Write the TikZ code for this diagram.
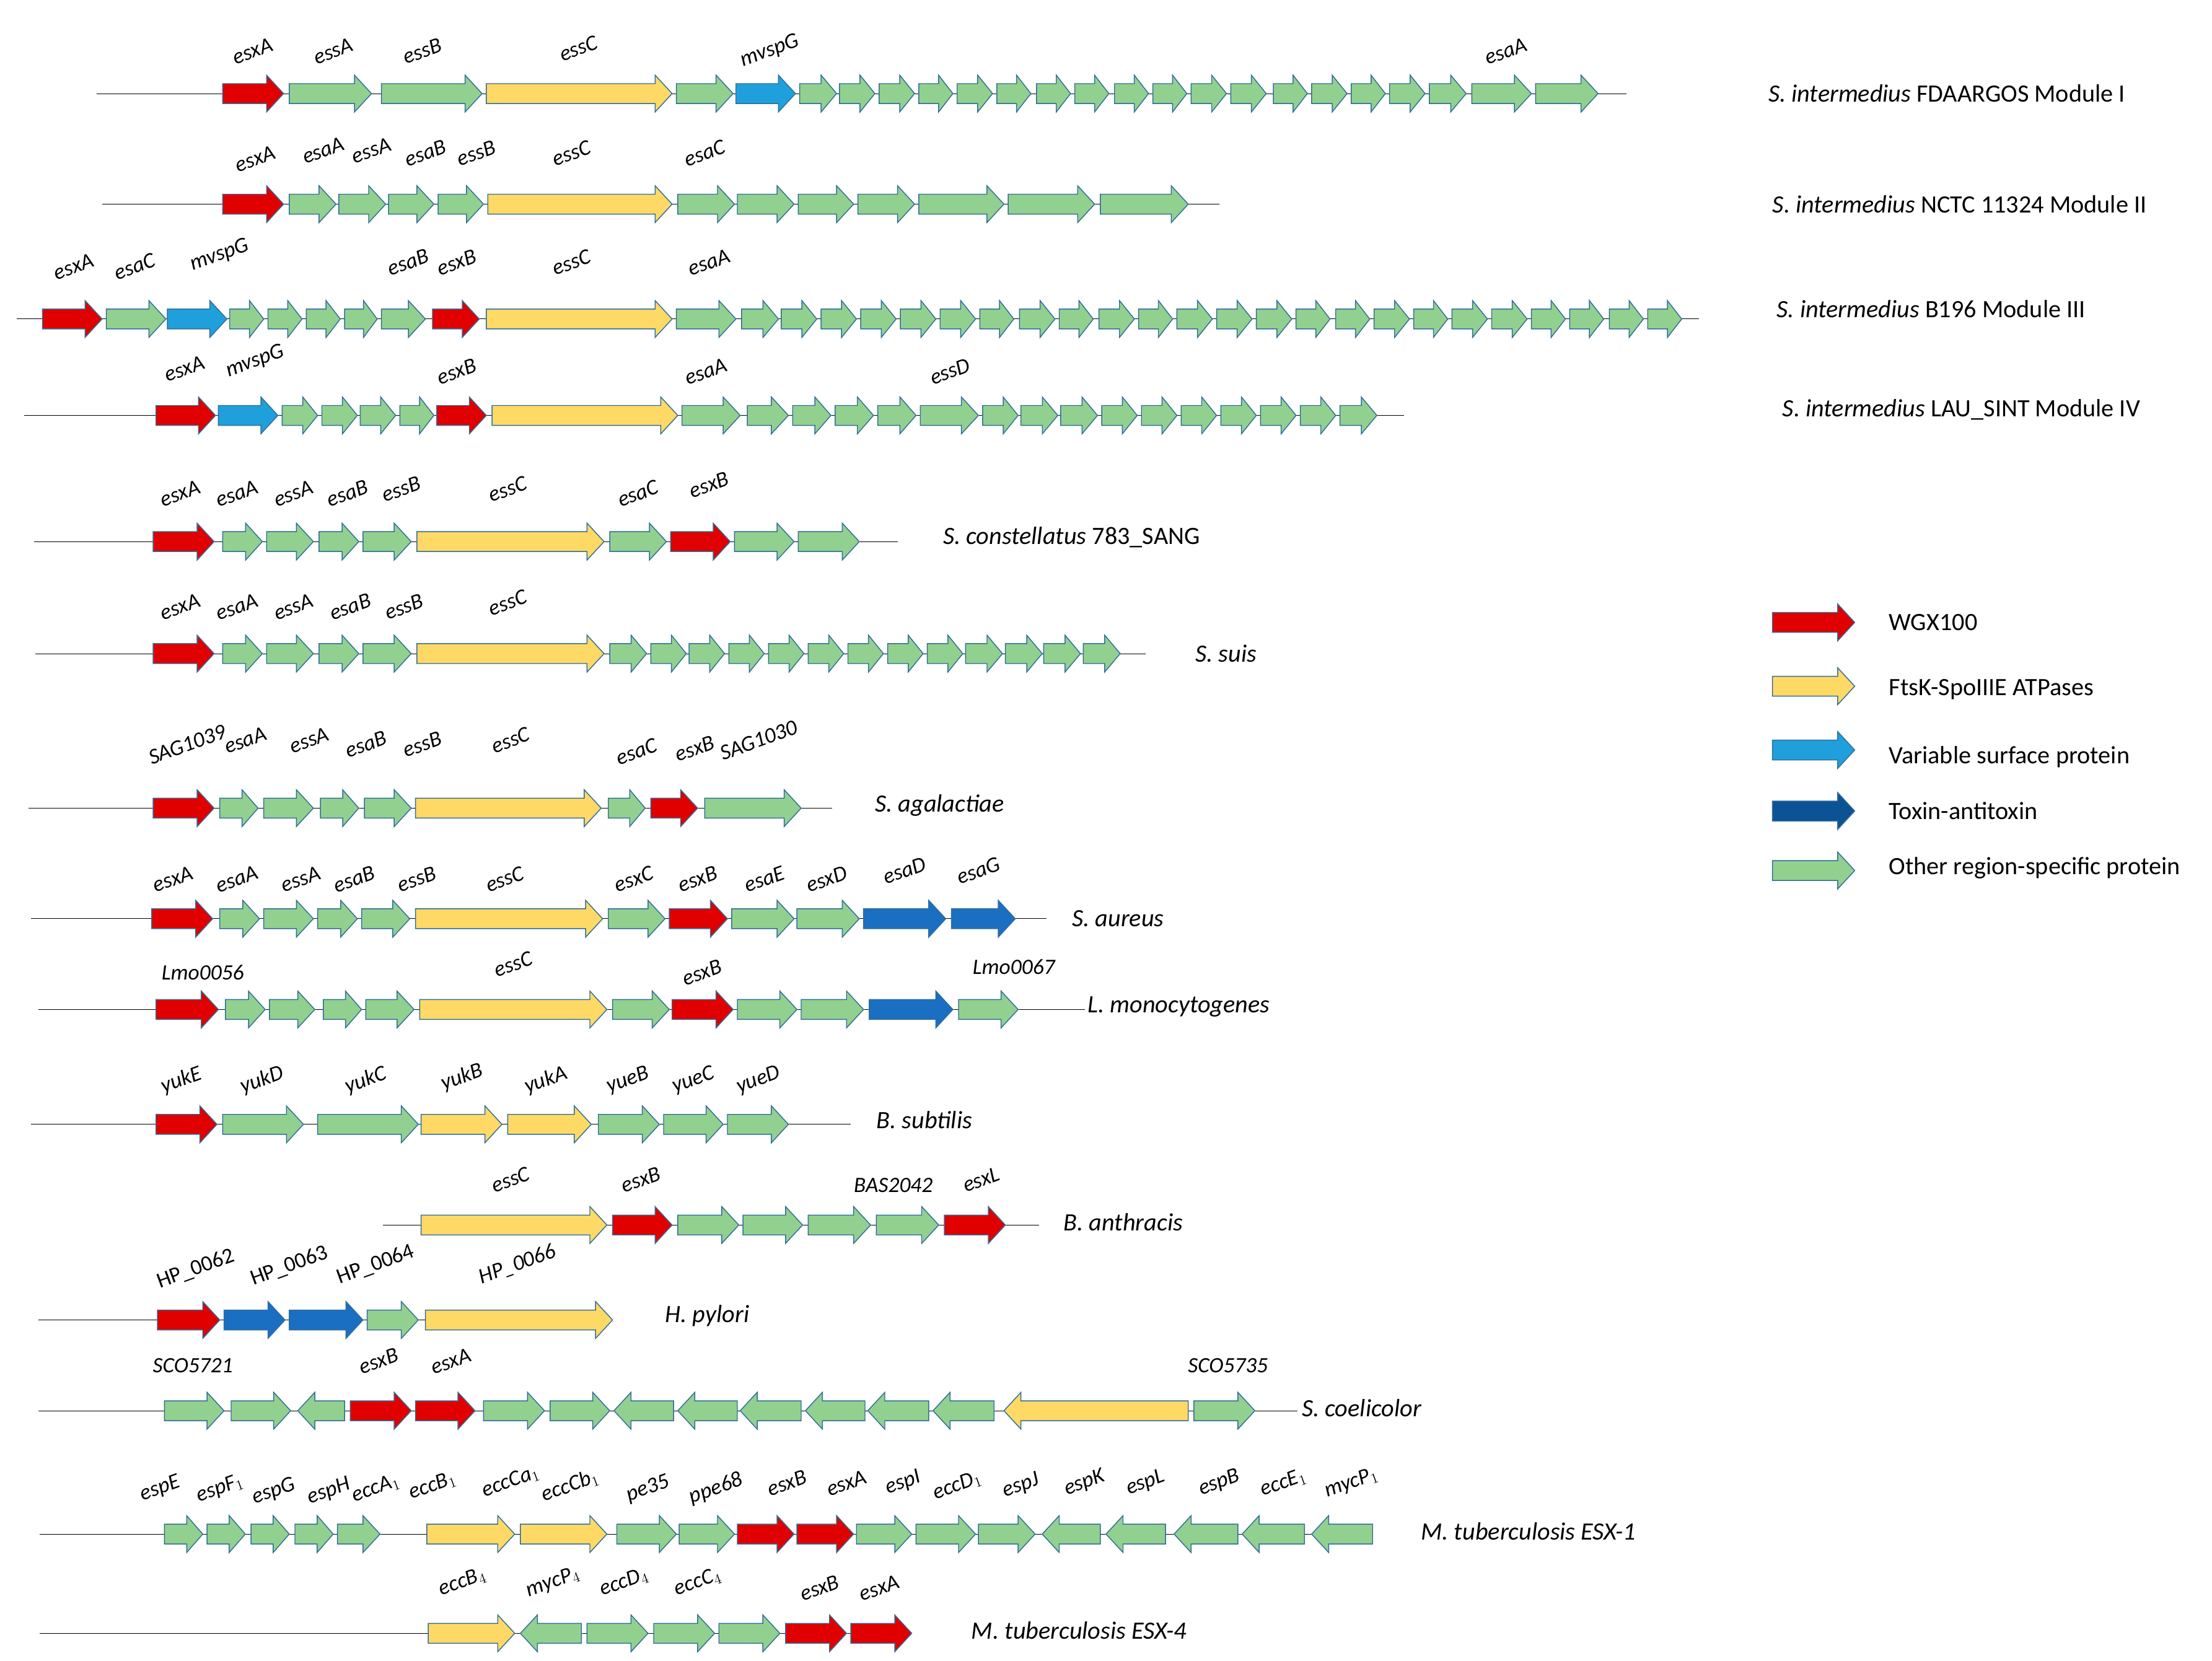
\documentclass[tikz,border=0pt]{standalone}
\usepackage{fontspec}
\setmainfont{Carlito}
\definecolor{gr}{HTML}{92D08F}
\definecolor{ye}{HTML}{FFD966}
\definecolor{rd}{HTML}{E00000}
\definecolor{lb}{HTML}{1FA0DC}
\definecolor{mb}{HTML}{1A6FC2}
\definecolor{db}{HTML}{0B5394}
\definecolor{bd}{HTML}{2F6E9A}
\tikzset{gene/.style={draw=bd,line width=0.9pt,line join=miter},
lab/.style={rotate=20,font=\fontsize{22}{26}\selectfont\itshape,inner sep=0pt},
hlab/.style={font=\fontsize{22}{26}\selectfont\itshape,inner sep=0pt},
sp/.style={anchor=west,font=\fontsize{25}{30}\selectfont,inner sep=0pt},
bb/.style={line width=0.6pt}}
\newcommand\gR[4]{\pgfmathsetmacro\hh{min(12,0.42*(#2-#1))}%
\filldraw[gene,fill=#4] (#1,#3-7)--({#2-\hh},#3-7)--({#2-\hh},#3-13)--(#2,#3)--({#2-\hh},#3+13)--({#2-\hh},#3+7)--(#1,#3+7)--cycle;}
\newcommand\gL[4]{\pgfmathsetmacro\hh{min(12,0.42*(#2-#1))}%
\filldraw[gene,fill=#4] (#2,#3-7)--({#1+\hh},#3-7)--({#1+\hh},#3-13)--(#1,#3)--({#1+\hh},#3+13)--({#1+\hh},#3+7)--(#2,#3+7)--cycle;}
\newcommand\gs[3]{\foreach \a/\b in {#3}{\gR{\a}{\b}{#1}{#2}}}
\newcommand\gls[3]{\foreach \a/\b in {#3}{\gL{\a}{\b}{#1}{#2}}}
\newcommand\lbl[3]{\node[lab] at (#1,#2) {#3};}
\newcommand\bline[3]{\draw[bb] (#1,#3)--(#2,#3);}
\begin{document}
\begin{tikzpicture}[x=0.05cm,y=-0.05cm]
\useasboundingbox[fill=white] (0,0) rectangle (1560,1171.5);
% Row 1
\bline{68}{1147}{66}
\gR{157}{200}{66}{rd}\gs{66}{gr}{204/262,269/340}\gR{343}{474}{66}{ye}\gR{477}{517}{66}{gr}\gR{519}{561}{66}{lb}
\gs{66}{gr}{564/590,592/617,620/645,648/672,675/700,703/727,731/755,758/782,786/810,813/837,840/865,868/893,898/922,925/950,953/977,980/1005,1008/1034,1038/1080,1083/1127}
\lbl{178}{36}{esxA}\lbl{235}{36}{essA}\lbl{298}{36}{essB}\lbl{408}{34}{essC}\lbl{543}{36}{mvspG}\lbl{1062}{36}{esaA}
\node[sp] at (1247,66) {\textit{S. intermedius} FDAARGOS Module I};
% Row 2
\bline{72}{860}{144}
\gR{157}{200}{144}{rd}\gs{144}{gr}{204/237,239/272,274/306,309/341}\gR{344}{474}{144}{ye}
\gs{144}{gr}{478/518,520/560,563/602,605/645,648/708,711/772,776/838}
\lbl{180}{112}{esxA}\lbl{228}{106}{esaA}\lbl{262}{106}{essA}\lbl{300}{108}{esaB}\lbl{336}{108}{essB}\lbl{403}{108}{essC}\lbl{497}{108}{esaC}
\node[sp] at (1250,144) {\textit{S. intermedius} NCTC 11324 Module II};
% Row 3
\bline{12}{1198}{225}
\gR{30}{72}{225}{rd}\gR{75}{117}{225}{gr}\gR{118}{160}{225}{lb}\gs{225}{gr}{162/186,189/213,216/240,243/266,269/300}
\gR{305}{338}{225}{rd}\gR{343}{474}{225}{ye}
\gs{225}{gr}{477/519,523/549,551/576,579/604,607/632,635/660,663/688,691/715,719/744,747/771,775/800,803/827,830/855,858/883,886/911,914/938,942/966,969/994,997/1021,1024/1049,1052/1077,1080/1104,1107/1131,1135/1159,1162/1186}
\lbl{52}{188}{esxA}\lbl{95}{188}{esaC}\lbl{155}{180}{mvspG}\lbl{288}{185}{esaB}\lbl{322}{185}{esxB}\lbl{403}{185}{essC}\lbl{500}{185}{esaA}
\node[sp] at (1253,218) {\textit{S. intermedius} B196 Module III};
% Row 4
\bline{17}{990}{293}
\gR{110}{152}{293}{rd}\gR{154}{196}{293}{lb}\gs{293}{gr}{199/224,227/252,254/279,282/306}\gR{308}{343}{293}{rd}\gR{347}{478}{293}{ye}
\gs{293}{gr}{481/522,527/556,559/586,589/616,619/646,649/690,693/718,720/746,748/774,777/802,805/830,833/858,861/886,889/914,917/942,945/971}
\lbl{130}{260}{esxA}\lbl{180}{255}{mvspG}\lbl{322}{262}{esxB}\lbl{498}{262}{esaA}\lbl{670}{262}{essD}
\node[sp] at (1257,289) {\textit{S. intermedius} LAU\_SINT Module IV};
% Row 5
\bline{24}{633}{382}
\gR{108}{151}{382}{rd}\gs{382}{gr}{157/185,188/221,225/253,256/290}\gR{294}{426}{382}{ye}\gR{430}{470}{382}{gr}\gR{473}{515}{382}{rd}\gs{382}{gr}{518/560,563/606}
\lbl{127}{348}{esxA}\lbl{167}{348}{esaA}\lbl{207}{348}{essA}\lbl{245}{348}{esaB}\lbl{283}{345}{essB}\lbl{358}{345}{essC}\lbl{450}{348}{esaC}\lbl{500}{342}{esxB}
\node[sp] at (665,379) {\textit{S. constellatus} 783\_SANG};
% Row 6
\bline{25}{808}{461}
\gR{108}{151}{461}{rd}\gs{461}{gr}{157/185,188/221,225/253,256/290}\gR{294}{426}{461}{ye}
\gs{461}{gr}{430/456,459/484,486/511,514/539,542/567,570/595,598/623,626/651,654/679,681/707,709/735,736/762,764/790}
\lbl{127}{428}{esxA}\lbl{167}{428}{esaA}\lbl{207}{428}{essA}\lbl{247}{428}{esaB}\lbl{285}{428}{essB}\lbl{358}{425}{essC}
\node[sp] at (843,461) {\textit{S. suis}};
% Row 7
\bline{20}{587}{570}
\gR{108}{151}{570}{rd}\gs{570}{gr}{155/182,186/221,226/253,257/290}\gR{293}{424}{570}{ye}\gR{429}{455}{570}{gr}\gR{459}{492}{570}{rd}\gR{497}{565}{570}{gr}
\lbl{132}{525}{SAG1039}\lbl{173}{522}{esaA}\lbl{218}{522}{essA}\lbl{258}{525}{esaB}\lbl{298}{525}{essB}\lbl{360}{522}{essC}\lbl{449}{530}{esaC}\lbl{490}{528}{esxB}\lbl{535}{522}{SAG1030}
\node[sp] at (617,568) {\textit{S. agalactiae}};
% Row 8
\bline{22}{738}{648}
\gR{107}{150}{648}{rd}\gs{648}{gr}{155/183,186/221,224/252,255/289}\gR{293}{425}{648}{ye}\gR{429}{469}{648}{gr}\gR{472}{513}{648}{rd}\gs{648}{gr}{516/560,562/606}\gR{609}{667}{648}{mb}\gR{671}{716}{648}{mb}
\lbl{122}{620}{esxA}\lbl{167}{620}{esaA}\lbl{212}{620}{essA}\lbl{250}{620}{esaB}\lbl{294}{620}{essB}\lbl{356}{620}{essC}\lbl{447}{620}{esxC}\lbl{492}{620}{esxB}\lbl{539}{620}{esaE}\lbl{583}{620}{esxD}\lbl{638}{614}{esaD}\lbl{690}{614}{esaG}
\node[sp] at (756,648) {\textit{S. aureus}};
% Row 9
\bline{27}{765}{712}
\gR{110}{154}{712}{rd}\gs{712}{gr}{159/187,190/222,228/255,258/292}\gR{296}{428}{712}{ye}\gR{432}{472}{712}{gr}\gR{474}{517}{712}{rd}\gs{712}{gr}{520/562,565/609}\gR{613}{672}{712}{mb}\gR{676}{718}{712}{gr}
\node[hlab] at (143,686) {Lmo0056};\lbl{362}{680}{essC}\lbl{495}{686}{esxB}\node[hlab] at (715,682) {Lmo0067};
\node[sp] at (767,710) {\textit{L. monocytogenes}};
% Row 10
\bline{22}{600}{793}
\gR{110}{153}{793}{rd}\gs{793}{gr}{157/214,224/295}\gs{793}{ye}{297/354,358/417}\gs{793}{gr}{422/465,468/510,513/556}
\lbl{128}{762}{yukE}\lbl{185}{762}{yukD}\lbl{258}{762}{yukC}\lbl{326}{760}{yukB}\lbl{385}{762}{yukA}\lbl{443}{762}{yueB}\lbl{489}{762}{yueC}\lbl{535}{762}{yueD}
\node[sp] at (618,790) {\textit{B. subtilis}};
% Row 11
\bline{270}{733}{864}
\gR{297}{428}{864}{ye}\gR{432}{474}{864}{rd}\gs{864}{gr}{478/521,524/566,570/614,618/662}\gR{666}{709}{864}{rd}
\lbl{360}{832}{essC}\lbl{452}{832}{esxB}\node[hlab] at (630,836) {BAS2042};\lbl{692}{832}{esxL}
\node[sp] at (750,862) {\textit{B. anthracis}};
% Row 12
\bline{27}{432}{931}
\gR{111}{155}{931}{rd}\gR{158}{201}{931}{mb}\gR{204}{256}{931}{mb}\gR{259}{295}{931}{gr}\gR{300}{432}{931}{ye}
\node[lab,font=\fontsize{22}{26}\selectfont] at (138,895) {HP\_0062};
\node[lab,font=\fontsize{22}{26}\selectfont] at (204,893) {HP\_0063};
\node[lab,font=\fontsize{22}{26}\selectfont] at (265,892) {HP\_0064};
\lbl{365}{892}{HP\_0066}
\node[sp] at (469,928) {\textit{H. pylori}};
% Row 13
\bline{27}{915}{995}
\gs{995}{gr}{116/158,163/205}\gL{210}{243}{995}{gr}\gs{995}{rd}{247/290,293/335}\gs{995}{gr}{341/384,388/430}
\gls{995}{gr}{433/475,478/520,522/565,568/610,612/655,658/701}\gL{708}{838}{995}{ye}\gR{842}{885}{995}{gr}
\node[hlab] at (136,963) {SCO5721};\lbl{267}{960}{esxB}\lbl{318}{960}{esxA}\node[hlab] at (866,963) {SCO5735};
\node[sp] at (918,993) {\textit{S. coelicolor}};
% Row 14
\bline{28}{968}{1082}
\gs{1082}{gr}{116/143,146/173,177/204,208/235,238/268}\gs{1082}{ye}{301/363,367/428}\gs{1082}{gr}{435/477,479/518}
\gs{1082}{rd}{520/560,562/602}\gs{1082}{gr}{604/643,646/688,690/730}\gls{1082}{gr}{735/776,780/822,828/873,876/920,925/968}
\lbl{113}{1050}{espE}\lbl{155}{1050}{espF$_1$}\lbl{193}{1052}{espG}\lbl{232}{1052}{espH}\lbl{265}{1050}{eccA$_1$}\lbl{305}{1048}{eccB$_1$}\lbl{360}{1045}{eccCa$_1$}\lbl{402}{1048}{eccCb$_1$}
\lbl{457}{1050}{pe35}\lbl{505}{1050}{ppe68}\lbl{555}{1046}{esxB}\lbl{597}{1046}{esxA}\lbl{637}{1046}{espI}\lbl{675}{1048}{eccD$_1$}\lbl{720}{1048}{espJ}\lbl{765}{1046}{espK}\lbl{808}{1046}{espL}\lbl{860}{1046}{espB}\lbl{905}{1046}{eccE$_1$}\lbl{953}{1046}{mycP$_1$}
\node[sp] at (1002,1080) {\textit{M. tuberculosis ESX-1}};
% Row 15
\bline{28}{643}{1152}
\gR{302}{363}{1152}{ye}\gL{367}{410}{1152}{gr}\gs{1152}{gr}{414/457,461/504,507/550}\gs{1152}{rd}{554/597,600/643}
\lbl{326}{1116}{eccB$_4$}\lbl{390}{1116}{mycP$_4$}\lbl{440}{1116}{eccD$_4$}\lbl{492}{1116}{eccC$_4$}\lbl{578}{1120}{esxB}\lbl{620}{1120}{esxA}
\node[sp] at (685,1150) {\textit{M. tuberculosis ESX-4}};
% Legend
\gR{1250}{1308}{439}{rd}\node[sp] at (1332,439) {WGX100};
\gR{1250}{1308}{484}{ye}\node[sp] at (1332,486) {FtsK-SpoIIIE ATPases};
\gR{1250}{1308}{529}{lb}\node[sp] at (1332,534) {Variable surface protein};
\gR{1250}{1308}{572}{db}\node[sp] at (1332,572) {Toxin-antitoxin};
\gR{1250}{1308}{614}{gr}\node[sp] at (1332,612) {Other region-specific protein};
\end{tikzpicture}
\end{document}
